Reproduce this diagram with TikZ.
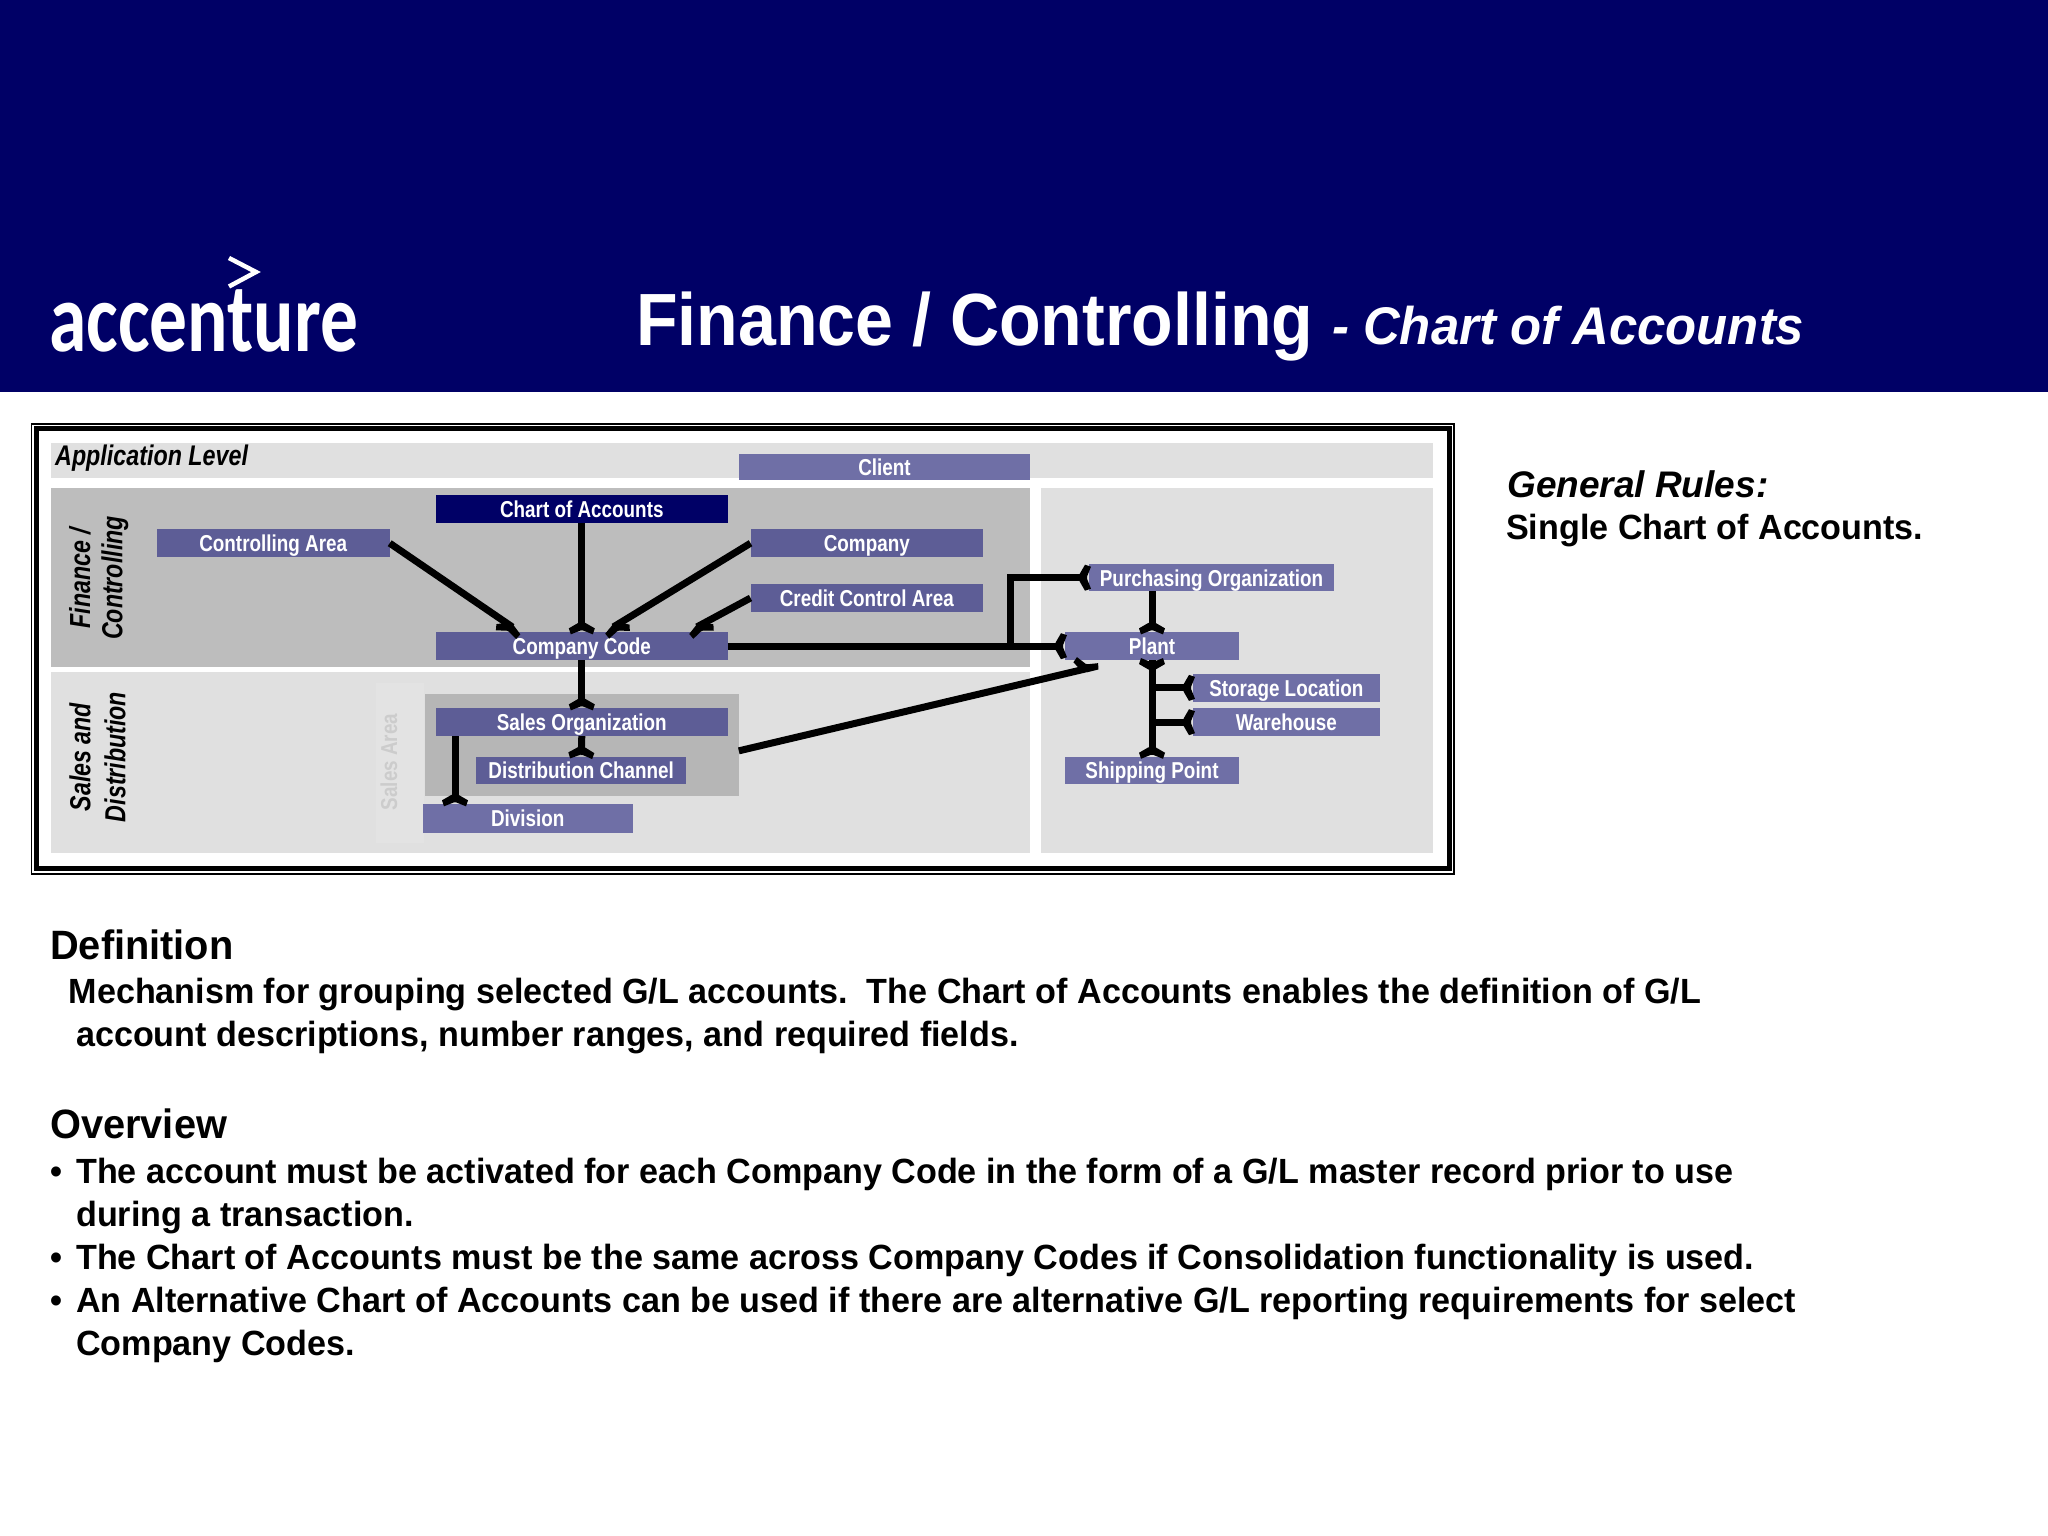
\documentclass[tikz,border=0pt]{standalone}
\usepackage{fontspec}
\usetikzlibrary{arrows.meta,calc}
\setmainfont{Liberation Sans}
\newfontfamily\boxfont[FakeStretch=0.82]{Liberation Sans Bold}
\newfontfamily\bodyfont[FakeStretch=0.975]{Liberation Sans Bold}
\newfontfamily\headfont[FakeStretch=0.97]{Liberation Sans Bold}
\newfontfamily\rotfont[FakeStretch=0.82]{Liberation Sans Bold Italic}
\newfontfamily\rotfontb[FakeStretch=0.8]{Liberation Sans Bold Italic}
\newfontfamily\titlefont[FakeStretch=0.92]{Liberation Sans Bold}
\newfontfamily\subtitlefont[FakeStretch=0.96]{Liberation Sans Bold Italic}
\newfontfamily\rulesfont{Liberation Sans Bold Italic}
\newfontfamily\logofont[FakeStretch=0.77]{Carlito Bold}
\definecolor{navy}{HTML}{000066}
\definecolor{boxdark}{HTML}{5D5D96}
\definecolor{boxlight}{HTML}{6F6FA6}
\definecolor{panellight}{HTML}{E0E0E0}
\definecolor{paneldark}{HTML}{BDBDBD}
\definecolor{salesgrey}{HTML}{B6B6B6}
\pgfdeclarearrow{
  name=Crowfoot,
  setup code={
    \pgfarrowssettipend{0pt}
    \pgfarrowssetlineend{-5pt}
    \pgfarrowssetbackend{-9pt}
    \pgfarrowssetvisualbackend{-5pt}
  },
  drawing code={
    \pgfpathmoveto{\pgfqpoint{-9.5pt}{3.5pt}}
    \pgfpathlineto{\pgfqpoint{-4pt}{13pt}}
    \pgfpathlineto{\pgfqpoint{2pt}{11pt}}
    \pgfpathlineto{\pgfqpoint{-2pt}{1pt}}
    \pgfpathlineto{\pgfqpoint{-2pt}{-1pt}}
    \pgfpathlineto{\pgfqpoint{2pt}{-11pt}}
    \pgfpathlineto{\pgfqpoint{-4pt}{-13pt}}
    \pgfpathlineto{\pgfqpoint{-9.5pt}{-3.5pt}}
    \pgfpathclose
    \pgfusepathqfill
  }
}
\tikzset{
  panel/.style={inner sep=0pt,outer sep=0pt},
  orgbox/.style={inner sep=0pt,outer sep=0pt,text=white,text height=16.7pt,text depth=0pt,
    font=\boxfont\fontsize{23}{23}\selectfont},
  dark/.style={orgbox,fill=boxdark},
  light/.style={orgbox,fill=boxlight},
  link/.style={line width=7pt,draw=black},
  crow/.style={link,-{Crowfoot[]}},
  bodytext/.style={anchor=base west,inner sep=0pt,font=\bodyfont\fontsize{35}{35}\selectfont},
  headtext/.style={anchor=base west,inner sep=0pt,font=\headfont\fontsize{41}{41}\selectfont},
  rotlabel/.style={rotate=90,inner sep=0pt,font=\rotfontb\fontsize{29}{29}\selectfont},
}
\begin{document}
\begin{tikzpicture}[x=1pt,y=-1pt]
\useasboundingbox (0,0) rectangle (2048,1536);
% header
\fill[navy] (0,0) rectangle (2048,392);
\node[anchor=base west,inner sep=0pt,text=white,font=\logofont\fontsize{98}{98}\selectfont] (logo) at (49,351) {accenture};
\draw[white,line width=4.5pt,miter limit=10] (229,258) -- (256,272) -- (229,286.5);
\node[anchor=base west,inner sep=0pt,text=white,font=\titlefont\fontsize{74}{74}\selectfont] (title) at (636,345) {Finance / Controlling};
\node[anchor=base west,inner sep=0pt,text=white,font=\subtitlefont\fontsize{53}{53}\selectfont] (subtitle) at (1332,344) {- Chart of Accounts};
% frame
\draw[black,line width=1.8pt] (31.5,423.7) rectangle (1454,873.7);
\draw[black,line width=5pt] (36.7,428.5) rectangle (1449.3,868.5);
% panels
\node[panel,fill=panellight,minimum width=1382pt,minimum height=34.7pt,anchor=north west] (applevel) at (51,443.3) {};
\node[panel,fill=paneldark,minimum width=979pt,minimum height=179.3pt,anchor=north west] (fico) at (51,488) {};
\node[panel,fill=panellight,minimum width=979pt,minimum height=180.7pt,anchor=north west] (sd) at (51,672) {};
\node[panel,fill=panellight,minimum width=392pt,minimum height=364.7pt,anchor=north west] (right) at (1041,488) {};
\node[panel,fill=white!10!panellight,minimum width=48pt,minimum height=160pt,anchor=north west] (salespanel) at (376,683) {};
\node[panel,fill=salesgrey,minimum width=314.3pt,minimum height=101.7pt,anchor=north west] (salesbox) at (424.5,694) {};
% panel labels
\node[anchor=base west,inner sep=0pt,font=\rotfont\fontsize{28.4}{28.4}\selectfont] (apptext) at (55,465) {Application Level};
\node[rotlabel] (fin1) at (80,578) {Finance /};
\node[rotlabel] (fin2) at (115,578) {Controlling};
\node[rotlabel] (sal1) at (80,757) {Sales and};
\node[rotlabel] (sal2) at (115,757) {Distribution};
\node[rotate=90,inner sep=0pt,text=black!20,font=\boxfont\fontsize{23}{23}\selectfont] (salesarea) at (389,762) {Sales Area};
% boxes
\node[light,minimum width=291pt,minimum height=26.3pt] (client) at (884.5,467.2) {Client};
\node[orgbox,fill=navy,minimum width=291.6pt,minimum height=27.7pt] (chart) at (581.8,508.9) {Chart of Accounts};
\node[dark,minimum width=233pt,minimum height=27.7pt] (ca) at (273.2,543.2) {Controlling Area};
\node[dark,minimum width=232.5pt,minimum height=27.7pt] (company) at (866.8,543.2) {Company};
\node[dark,minimum width=232.5pt,minimum height=27.4pt] (credit) at (866.8,598) {Credit Control Area};
\node[dark,minimum width=291.6pt,minimum height=27.7pt] (cc) at (581.8,646.2) {Company Code};
\node[dark,minimum width=291.6pt,minimum height=27.7pt] (so) at (581.8,722.2) {Sales Organization};
\node[dark,minimum width=209.5pt,minimum height=27.3pt] (dist) at (581.2,770.4) {Distribution Channel};
\node[light,minimum width=209.6pt,minimum height=28.4pt] (div) at (527.8,818.5) {Division};
\node[light,minimum width=245pt,minimum height=27.3pt] (purch) at (1211.5,577.7) {Purchasing Organization};
\node[light,minimum width=174pt,minimum height=27.7pt] (plant) at (1152,646.2) {Plant};
\node[light,minimum width=186.6pt,minimum height=27.7pt] (storage) at (1286.3,687.9) {Storage Location};
\node[light,minimum width=186.6pt,minimum height=27.7pt] (ware) at (1286.3,722.2) {Warehouse};
\node[light,minimum width=174pt,minimum height=27.3pt] (ship) at (1152,770.4) {Shipping Point};
% connectors
\draw[crow] (ca.east) -- ([xshift=-71.8pt,yshift=7pt]cc.north) -- ([xshift=-75pt,yshift=-.5pt]cc.north);
\draw[crow] (chart.south) -- (cc.north);
\draw[crow] (company.west) -- ([xshift=34.2pt,yshift=7pt]cc.north) -- ([xshift=37pt,yshift=-.5pt]cc.north);
\draw[crow] (credit.west) -- ([xshift=118pt,yshift=7pt]cc.north) -- ([xshift=121pt,yshift=-.5pt]cc.north);
\draw[crow] (cc.east) -- (plant.west);
\coordinate (junction) at ($(cc.east)!0.8375!(plant.west)$);
\draw[crow] (junction) |- (purch.west);
\draw[crow] (purch.south -| plant.north) -- (plant.north);
\draw[crow] (plant.south) -- (ship.north);
\coordinate (b1) at (plant.south |- storage.west);
\coordinate (b2) at (plant.south |- ware.west);
\draw[crow] (b1) -- (plant.south);
\draw[crow] (b1) -- (storage.west);
\draw[crow] (b2) -- (ware.west);
\draw[crow] (cc.south) -- (so.north);
\draw[crow] (so.south) -- (dist.north);
\coordinate (divtop) at ([xshift=-72.8pt]div.north);
\draw[crow] (so.south -| divtop) -- (divtop);
\draw[crow] ([yshift=-6pt]salesbox.east) -- ([xshift=-67pt,yshift=-9pt]plant.south) -- ([xshift=-65pt,yshift=-2pt]plant.south);
% right text
\node[anchor=base west,inner sep=0pt,font=\rulesfont\fontsize{37}{37}\selectfont] (rules) at (1507,497) {General Rules:};
\node[bodytext] (single) at (1506,539) {Single Chart of Accounts.};
% body
\node[headtext] (defhead) at (50,959.3) {Definition};
\node[bodytext] (d1) at (68.5,1003.7) {Mechanism for grouping selected G/L accounts.\ \ The Chart of Accounts enables the definition of G/L};
\node[bodytext] (d2) at (76,1046.7) {account descriptions, number ranges, and required fields.};
\node[headtext] (ovhead) at (50,1138) {Overview};
\node[bodytext] (bu1) at (50,1183.7) {•};
\node[bodytext] (o1) at (76,1183.7) {The account must be activated for each Company Code in the form of a G/L master record prior to use};
\node[bodytext] (o1b) at (76,1226.7) {during a transaction.};
\node[bodytext] (bu2) at (50,1269.7) {•};
\node[bodytext] (o2) at (76,1269.7) {The Chart of Accounts must be the same across Company Codes if Consolidation functionality is used.};
\node[bodytext] (bu3) at (50,1312.7) {•};
\node[bodytext] (o3) at (76,1312.7) {An Alternative Chart of Accounts can be used if there are alternative G/L reporting requirements for select};
\node[bodytext] (o3b) at (76,1355.7) {Company Codes.};
\end{tikzpicture}
\end{document}
